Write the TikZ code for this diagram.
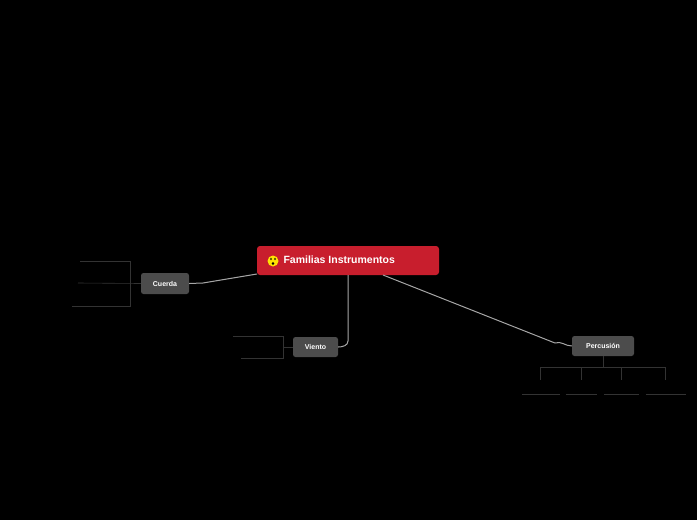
\documentclass[tikz,border=0pt]{standalone}
\usepackage{fontspec}
\setmainfont{Liberation Sans}
\begin{document}
\begin{tikzpicture}[x=1pt,y=-1pt,
  topic/.style={fill=black!70!white,rounded corners=2.5pt,text=white,font=\bfseries\fontsize{7}{8}\selectfont,inner sep=0pt},
  conn/.style={draw=black!35!white,line width=1pt},
  sub/.style={draw=black!80!white,line width=0.6pt}]
\fill[black] (0,0) rectangle (697,520);
\useasboundingbox (0,0) rectangle (697,520);
\node[fill={rgb,255:red,200;green,30;blue,45},rounded corners=3pt,minimum width=182pt,minimum height=29pt] (c) at (348,260.5) {};
\node[text=white,font=\bfseries\fontsize{10.5}{12}\selectfont,anchor=west] (ct) at (280,260) {Familias Instrumentos};
\fill[yellow!85!orange] (273,261) circle (5.5);
\fill[black] (271,259) ellipse (0.8 and 1.3) (275,259) ellipse (0.8 and 1.3) (273,263.5) ellipse (1.3 and 1.6);
\node[topic,minimum width=48pt,minimum height=21pt] (cu) at (165,283.5) {Cuerda};
\node[topic,minimum width=45pt,minimum height=20pt] (vi) at (315.5,347) {Viento};
\node[topic,minimum width=62pt,minimum height=20pt] (pe) at (603,346) {Percusión};
\coordinate (c1) at (257,274); \coordinate (c2) at (348,275); \coordinate (c3) at (383,275);
\draw[conn] (c1) -- (203,283) -- (cu.east);
\draw[conn] (c2) -- (348,341) to[out=-90,in=0] (vi.east);
\draw[conn] (c3) -- (555,343) to[out=20,in=180] (pe.west);
% Cuerda children
\draw[sub] (cu.west) -- (78,283);
\draw[sub] (80,261) -- (130,261) -- (130,306) -- (72,306);
% Viento children
\draw[sub] (vi.west) -- (283,347);
\draw[sub] (233,336) -- (283,336) -- (283,358) -- (241,358);
% Percusion children
\draw[sub] (pe.south) -- (603,367);
\draw[sub] (540,380) -- (540,367) -- (665,367) -- (665,380);
\draw[sub] (581,367) -- (581,380) (621,367) -- (621,380);
\draw[sub] (522,394) -- (560,394) (566,394) -- (597,394) (604,394) -- (639,394) (646,394) -- (686,394);
\end{tikzpicture}
\end{document}
